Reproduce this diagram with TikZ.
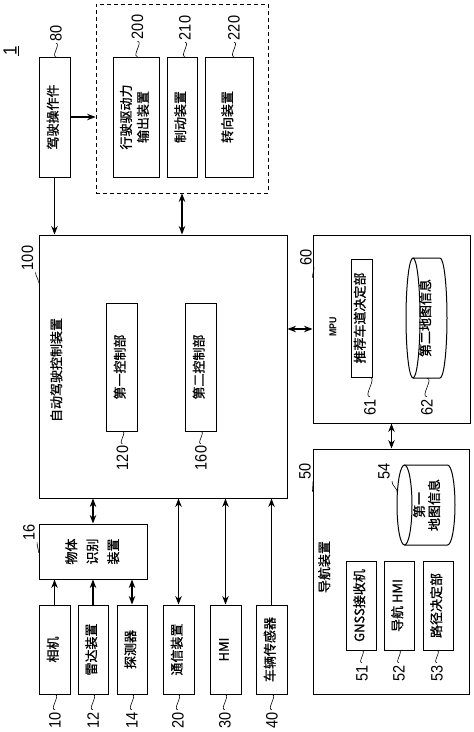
\documentclass[tikz,border=0pt]{standalone}
\usepackage{fontspec}
\setmainfont{Liberation Sans}
\newfontfamily\cjk[FakeBold=1]{Noto Sans CJK SC}
\newfontfamily\numfont[FakeStretch=0.88]{Liberation Sans}
\usetikzlibrary{arrows.meta,positioning}
\tikzstyle{box} = [draw, line width=1pt, inner sep=0pt, font=\cjk\fontsize{13}{16}\selectfont]
\tikzstyle{title} = [inner sep=0pt, font=\cjk\fontsize{13}{16}\selectfont]
\tikzstyle{num} = [rotate=90, inner sep=2pt, font=\numfont\fontsize{16.5}{16.5}\selectfont]
\tikzstyle{arrow} = [line width=1.2pt, -{Stealth[length=8.5pt,width=6.5pt]}]
\tikzstyle{darrow} = [line width=1.2pt, {Stealth[length=8.5pt,width=6.5pt]}-{Stealth[length=8.5pt,width=6.5pt]}]
\tikzstyle{leader} = [line width=0.6pt]
\newcommand{\vt}[2][16]{\rotatebox{90}{\fontsize{13}{#1}\selectfont\begin{tabular}{@{}c@{}}#2\end{tabular}}}

\begin{document}
\begin{tikzpicture}[x=1pt, y=-1pt]
\useasboundingbox (0,0) rectangle (474,732);

% figure number
\node[num, font=\numfont\fontsize{19}{19}\selectfont] (fig) at (11,51) {\underline{1}};

% driving operator and output devices
\node[box, minimum width=31pt, minimum height=120pt] (drv) at (54.5,117) {\vt{驾驶操作件}};
\node[draw, dashed, dash pattern=on 4pt off 3pt, line width=0.8pt, minimum width=172pt, minimum height=189pt] (grp) at (182,98.5) {};
\node[box, minimum width=46pt, minimum height=120pt] (pwr) at (136,117) {\vt[17]{行驶驱动力\\输出装置}};
\node[box, minimum width=30pt, minimum height=120pt] (brk) at (182,117) {\vt{制动装置}};
\node[box, minimum width=48pt, minimum height=120pt] (str) at (229,117) {\vt{转向装置}};

\node[num] (l80) at (56,33) {80};
\node[num] (l200) at (137.5,27) {200};
\node[num] (l210) at (185,28) {210};
\node[num] (l220) at (234,28) {220};
\draw[leader] (l80.west) to[out=0,in=180] (l80.west |- drv.north);
\draw[leader] (l200.west) to[out=0,in=180] (l200.west |- pwr.north);
\draw[leader] (l210.west) to[out=0,in=180] (l210.west |- brk.north);
\draw[leader] (l220.west) to[out=0,in=180] (l220.west |- str.north);

% automated driving control device
\node[box, minimum width=248pt, minimum height=263pt] (adc) at (163,366.5) {};
\node[title] (adcT) at (58,370) {\vt{自动驾驶控制装置}};
\node[box, minimum width=31pt, minimum height=128pt] (ctlA) at (121.5,367) {\vt{第一控制部}};
\node[box, minimum width=31pt, minimum height=128pt] (ctlB) at (200.5,367) {\vt{第二控制部}};
\node[num] (l100) at (27.5,258) {100};
\node[num] (l120) at (122.5,458) {120};
\node[num] (l160) at (201,458) {160};
\draw[leader] (l100.south west) to[out=-90,in=90] ([yshift=-48pt]adc.north west);
\draw[leader] (ctlA.south -| l120.east) to[out=0,in=180] (l120.east);
\draw[leader] (ctlB.south -| l160.east) to[out=0,in=180] (l160.east);

% MPU
\node[box, minimum width=157pt, minimum height=188pt] (mpu) at (391.5,329) {};
\node[title, font=\numfont\bfseries\fontsize{10}{10}\selectfont] (mpuT) at (333,327) {\rotatebox{90}{MPU}};
\node[box, minimum width=21pt, minimum height=118pt] (rec) at (361.5,318) {\vt{推荐车道决定部}};
\node[title, minimum width=41pt, minimum height=120pt] (map2) at (427,318) {\vt{第二地图信息}};
\draw[line width=1pt] (413,258) -- (440,258) arc[start angle=90, end angle=-90, x radius=7pt, y radius=60pt] -- (413,378);
\draw[line width=1pt] (413,318) ellipse [x radius=7pt, y radius=60pt];
\node[num] (l60) at (306,257) {60};
\node[num] (l61) at (370,407) {61};
\node[num] (l62) at (427,407) {62};
\draw[leader] (l60.south west) to[out=-90,in=90] ([yshift=-43pt]mpu.north west);
\draw[leader] (rec.south -| l61.east) to[out=0,in=180] (l61.east);
\draw[leader] (map2.south -| l62.east) to[out=0,in=180] (l62.east);

% navigation device
\node[box, minimum width=156pt, minimum height=245pt] (nav) at (391,571.5) {};
\node[title] (navT) at (326,567) {\vt{导航装置}};
\node[box, minimum width=30pt, minimum height=89pt] (gnss) at (361,605.5) {\vt{GNSS接收机}};
\node[box, minimum width=30pt, minimum height=89pt] (nhmi) at (399,605.5) {\vt{导航 HMI}};
\node[box, minimum width=30pt, minimum height=89pt] (route) at (438,605.5) {\vt{路径决定部}};
\node[title, minimum width=58pt, minimum height=80pt] (map1) at (428,505) {\vt[13]{第一\\地图信息}};
\draw[line width=1pt] (404.5,465) -- (447.5,465) arc[start angle=90, end angle=-90, x radius=7.5pt, y radius=40pt] -- (404.5,545);
\draw[line width=1pt] (404.5,505) ellipse [x radius=7.5pt, y radius=40pt];
\node[num] (l50) at (305,471) {50};
\node[num] (l51) at (362,673) {51};
\node[num] (l52) at (399,673) {52};
\node[num] (l53) at (437,673) {53};
\node[num] (l54) at (384,471) {54};
\draw[leader] (l50.south west) to[out=-90,in=90] ([yshift=-43pt]nav.north west);
\draw[leader] (gnss.south -| l51.east) to[out=0,in=180] (l51.east);
\draw[leader] (nhmi.south -| l52.east) to[out=0,in=180] (l52.east);
\draw[leader] (route.south -| l53.east) to[out=0,in=180] (l53.east);
\draw[leader] (l54.south west) to[out=-90,in=90] (397.5,493);

% sensors and interfaces
\node[box, minimum width=108pt, minimum height=55pt] (obj) at (93,551.5) {\vt[21]{物体\\识别\\装置}};
\node[box, minimum width=31pt, minimum height=89pt] (cam) at (54.5,649.5) {\vt{相机}};
\node[box, minimum width=30pt, minimum height=89pt] (radar) at (93,649.5) {\vt{雷达装置}};
\node[box, minimum width=30pt, minimum height=89pt] (finder) at (132,649.5) {\vt{探测器}};
\node[box, minimum width=31pt, minimum height=89pt] (comm) at (178.5,649.5) {\vt{通信装置}};
\node[box, minimum width=31pt, minimum height=89pt] (hmi) at (225.5,649.5) {\vt{HMI}};
\node[box, minimum width=31pt, minimum height=89pt] (vsens) at (271.5,649.5) {\vt{车辆传感器}};
\node[num] (l16) at (29,532) {16};
\node[num] (l10) at (55,720) {10};
\node[num] (l12) at (93,720) {12};
\node[num] (l14) at (132,720) {14};
\node[num] (l20) at (178,720) {20};
\node[num] (l30) at (225,720) {30};
\node[num] (l40) at (272,720) {40};
\draw[leader] (l16.south west) to[out=-90,in=90] ([yshift=-29pt]obj.north west);
\draw[leader] (cam.south -| l10.east) to[out=0,in=180] (l10.east);
\draw[leader] (radar.south -| l12.east) to[out=0,in=180] (l12.east);
\draw[leader] (finder.south -| l14.east) to[out=0,in=180] (l14.east);
\draw[leader] (comm.south -| l20.east) to[out=0,in=180] (l20.east);
\draw[leader] (hmi.south -| l30.east) to[out=0,in=180] (l30.east);
\draw[leader] (vsens.south -| l40.east) to[out=0,in=180] (l40.east);

% connections
\draw[arrow] (drv.east) -- (drv.east -| grp.west);
\draw[arrow] (drv.south) -- (drv.south |- adc.north);
\draw[darrow] (grp.south) -- (grp.south |- adc.north);
\draw[darrow] (mpu.west -| adc.east) -- (mpu.west);
\draw[darrow] (mpu.south) -- (mpu.south |- nav.north);
\draw[arrow] (cam.north) -- (cam.north |- obj.south);
\draw[arrow] (radar.north) -- (radar.north |- obj.south);
\draw[darrow] (finder.north) -- (finder.north |- obj.south);
\draw[darrow] (obj.north) -- (obj.north |- adc.south);
\draw[darrow] (comm.north) -- (comm.north |- adc.south);
\draw[darrow] (hmi.north) -- (hmi.north |- adc.south);
\draw[arrow] (vsens.north) -- (vsens.north |- adc.south);
\end{tikzpicture}
\end{document}
